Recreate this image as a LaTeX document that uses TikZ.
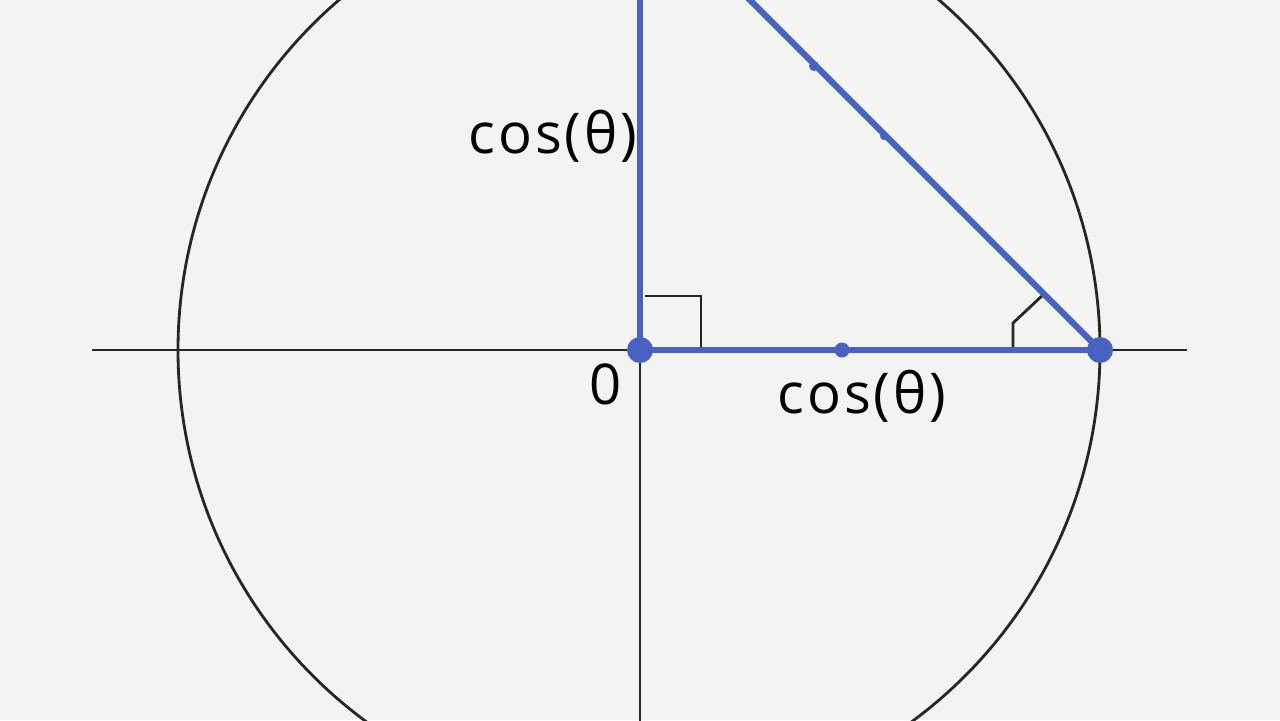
\documentclass[tikz,border=0pt]{standalone}
\usepackage{fontspec}
\setmainfont{Open Sans}
\newfontfamily\labfont[LetterSpace=5]{Open Sans}
\begin{document}
\begin{tikzpicture}[x=0.02cm,y=-0.02cm,
  thinblack/.style={draw=black!85,line width=1.6pt},
  blueline/.style={draw=triblue,line width=3.5pt},
  bigdot/.style={circle,fill=triblue,inner sep=0pt,minimum size=0.52cm},
  smalldot/.style={circle,fill=triblue,inner sep=0pt,minimum size=0.3cm},
  lab/.style={font=\labfont\fontsize{32}{36}\selectfont,text=black,inner sep=0pt},
  zerolab/.style={font=\fontsize{32}{36}\selectfont,text=black,inner sep=0pt}]
\definecolor{triblue}{RGB}{72,98,196}
\definecolor{bg}{RGB}{243,243,241}
\fill[bg] (0,0) rectangle (1280,720);
\useasboundingbox (0,0) rectangle (1280,720);
\begin{scope}
\clip (0,0) rectangle (1280,720);
% coordinates
\coordinate (O) at (640,350);
\coordinate (A) at (1100,350);
\coordinate (T) at (640,-110);
\coordinate (xl) at (92,350);
\coordinate (xr) at (1187,350);
\coordinate (yt) at (640,-5);
\coordinate (yb) at (640,725);
% circle and axes
\draw[thinblack] (639,350) circle (461);
\draw[thinblack] (xl) -- (xr);
\draw[thinblack] (yt) -- (yb);
% right angle at origin
\coordinate (r1) at (645,296);
\coordinate (r2) at (701,296);
\coordinate (r3) at (701,350);
\draw[thinblack] (r1) -- (r2) -- (r3);
% angle marker at A
\coordinate (q1) at (1013,350);
\coordinate (q2) at (1013,323);
\coordinate (q3) at (1044,294);
\draw[thinblack] (q1) -- (q2) -- (q3);
% triangle
\draw[blueline] (O) -- (T);
\draw[blueline] (O) -- (A);
\draw[blueline] (A) -- (T);
\node[bigdot] (dO) at (O) {};
\node[bigdot] (dA) at (A) {};
\node[smalldot] (dm) at (842,350) {};
\node[circle,fill=triblue,inner sep=0pt,minimum size=0.2cm] (h1) at (814,66) {};
\node[circle,fill=triblue,inner sep=0pt,minimum size=0.16cm] (h2) at (884,136) {};
% labels
\node[lab] (l1) at (553,136) {cos(θ)};
\node[lab] (l2) at (862,396) {cos(θ)};
\node[zerolab] (l0) at (606,384) {0};
\end{scope}
\end{tikzpicture}
\end{document}
